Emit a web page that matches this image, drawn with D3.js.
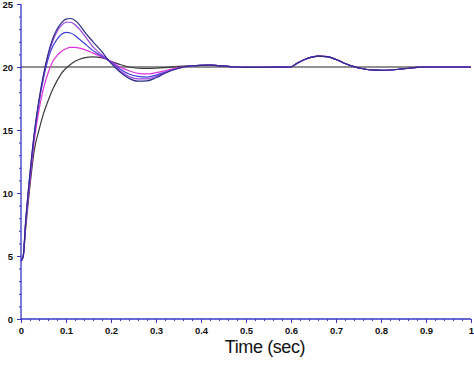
<!DOCTYPE html>
<html>
<head>
<meta charset="utf-8">
<script src="https://cdn.jsdelivr.net/npm/d3@7"></script>
<style>
html,body{margin:0;padding:0;background:#fff;}
svg{display:block;}
</style>
</head>
<body>
<svg id="chart" width="474" height="381"></svg>
<script>
// ---- data ----
const timesStart = [0, 0.005, 0.01, 0.02, 0.03, 0.04, 0.05, 0.06, 0.07, 0.08, 0.09, 0.10, 0.11, 0.12, 0.13, 0.14, 0.16, 0.18, 0.194, 0.20, 0.22, 0.24, 0.26, 0.28, 0.30, 0.32, 0.35];
const timesTail  = [0.38, 0.42, 0.46, 0.50, 0.55, 0.60, 0.61, 0.62, 0.64, 0.66, 0.68, 0.70, 0.72, 0.74, 0.76, 0.78, 0.80, 0.82, 0.84, 0.86, 0.88, 0.90, 0.95, 1.0];
const valuesTail = [20.1, 20.15, 20.05, 19.97, 19.98, 20.0, 20.22, 20.42, 20.72, 20.87, 20.82, 20.6, 20.28, 20.03, 19.86, 19.77, 19.74, 19.76, 19.82, 19.9, 19.97, 20.0, 20.0, 20.0];

const seriesBlack   = [4.6, 5.0, 7.0, 10.6, 13.5, 15.0, 16.3, 17.3, 18.2, 18.9, 19.5, 19.9, 20.2, 20.45, 20.62, 20.72, 20.8, 20.72, 20.55, 20.45, 20.2, 20.0, 19.9, 19.88, 19.9, 19.95, 20.05];
const seriesMagenta = [4.6, 5.0, 7.3, 11.0, 14.3, 16.6, 18.3, 19.5, 20.4, 20.9, 21.25, 21.45, 21.55, 21.55, 21.5, 21.4, 21.1, 20.8, 20.55, 20.45, 20.0, 19.7, 19.5, 19.45, 19.55, 19.7, 19.95];
const seriesBlue    = [4.6, 5.0, 7.5, 11.3, 14.7, 17.2, 19.1, 20.6, 21.6, 22.2, 22.6, 22.75, 22.7, 22.5, 22.2, 21.9, 21.3, 20.85, 20.55, 20.4, 19.85, 19.45, 19.25, 19.2, 19.35, 19.6, 19.9];
const seriesViolet  = [4.6, 5.0, 7.5, 11.5, 14.8, 17.3, 19.3, 20.9, 22.0, 22.8, 23.3, 23.55, 23.55, 23.35, 23.0, 22.55, 21.6, 20.95, 20.55, 20.35, 19.7, 19.25, 19.05, 19.05, 19.25, 19.55, 19.9];
const seriesNavy    = [4.6, 5.0, 7.6, 11.6, 14.9, 17.4, 19.4, 21.0, 22.2, 23.0, 23.5, 23.8, 23.85, 23.7, 23.35, 22.85, 22.0, 21.2, 20.55, 20.3, 19.6, 19.1, 18.88, 18.9, 19.15, 19.5, 19.9];

const seriesNames  = ["black", "magenta", "blue", "violet", "navy"];
const seriesColors = ["#3a3a3a", "#dd33dd", "#3d3ddd", "#9a40e0", "#2c2c88"];
const seriesValues = [seriesBlack, seriesMagenta, seriesBlue, seriesViolet, seriesNavy];

const setpoint = 20;
const xTicks = [0, 0.1, 0.2, 0.3, 0.4, 0.5, 0.6, 0.7, 0.8, 0.9, 1];
const xTickLabels = ["0", "0.1", "0.2", "0.3", "0.4", "0.5", "0.6", "0.7", "0.8", "0.9", "1"];
const yTicks = [0, 5, 10, 15, 20, 25];
const xLabel = "Time (sec)";

// ---- drawing ----
const svg = d3.select("#chart");
const x = d3.scaleLinear().domain([0, 1]).range([21, 471]);
const y = d3.scaleLinear().domain([0, 25]).range([319, 4]);
const axisColor = "#3434c8";

// setpoint line
svg.append("line")
  .attr("x1", x(0)).attr("x2", x(1))
  .attr("y1", y(setpoint)).attr("y2", y(setpoint))
  .attr("stroke", "#222").attr("stroke-width", 1);

// curves
const line = d3.line()
  .x(d => x(d[0])).y(d => y(d[1]))
  .curve(d3.curveMonotoneX);

seriesValues.forEach((vals, i) => {
  const pts = timesStart.map((t, j) => [t, vals[j]])
    .concat(timesTail.map((t, j) => [t, valuesTail[j]]));
  svg.append("path")
    .datum(pts)
    .attr("d", line)
    .attr("fill", "none")
    .attr("stroke", seriesColors[i])
    .attr("stroke-width", 1.2)
    .attr("class", "series-" + seriesNames[i]);
});

// x axis
const gx = svg.append("g").attr("transform", `translate(0,${y(0)})`);
gx.call(d3.axisBottom(x).tickValues(d3.range(0, 1.0001, 0.02)).tickSize(2).tickFormat(""));
gx.call(g => g.select(".domain").remove());
const gx2 = svg.append("g").attr("transform", `translate(0,${y(0)})`);
gx2.call(d3.axisBottom(x).tickValues(xTicks).tickSize(4).tickPadding(4)
  .tickFormat((d, i) => xTickLabels[i]));
[gx, gx2].forEach(g => {
  g.selectAll("line").attr("stroke", axisColor);
  g.select(".domain").attr("stroke", axisColor).attr("stroke-width", 1.3);
  g.selectAll("text").attr("fill", "#111").style("font-family", "Liberation Sans, Arial, sans-serif")
    .style("font-size", "9.5px").style("font-weight", "bold");
});
gx2.select(".domain").attr("d", `M${x(0)},0H${x(1)}`);

// y axis
const gy = svg.append("g").attr("transform", `translate(${x(0)},0)`);
gy.call(d3.axisLeft(y).tickValues(d3.range(0, 25.001, 1)).tickSize(2).tickFormat(""));
gy.call(g => g.select(".domain").remove());
const gy2 = svg.append("g").attr("transform", `translate(${x(0)},0)`);
gy2.call(d3.axisLeft(y).tickValues(yTicks).tickSize(4).tickPadding(4).tickFormat(d3.format("d")));
[gy, gy2].forEach(g => {
  g.selectAll("line").attr("stroke", axisColor);
  g.select(".domain").attr("stroke", axisColor).attr("stroke-width", 1.3);
  g.selectAll("text").attr("fill", "#111").style("font-family", "Liberation Sans, Arial, sans-serif")
    .style("font-size", "9.5px").style("font-weight", "bold");
});
gy2.select(".domain").attr("d", `M0,${y(0)}V${y(25)}`);

// x label
svg.append("text")
  .attr("x", 265).attr("y", 353)
  .attr("text-anchor", "middle")
  .style("font-family", "Liberation Sans, Arial, sans-serif")
  .style("font-size", "18px")
  .style("letter-spacing", "-0.4px")
  .attr("fill", "#111")
  .text(xLabel);
</script>
</body>
</html>
